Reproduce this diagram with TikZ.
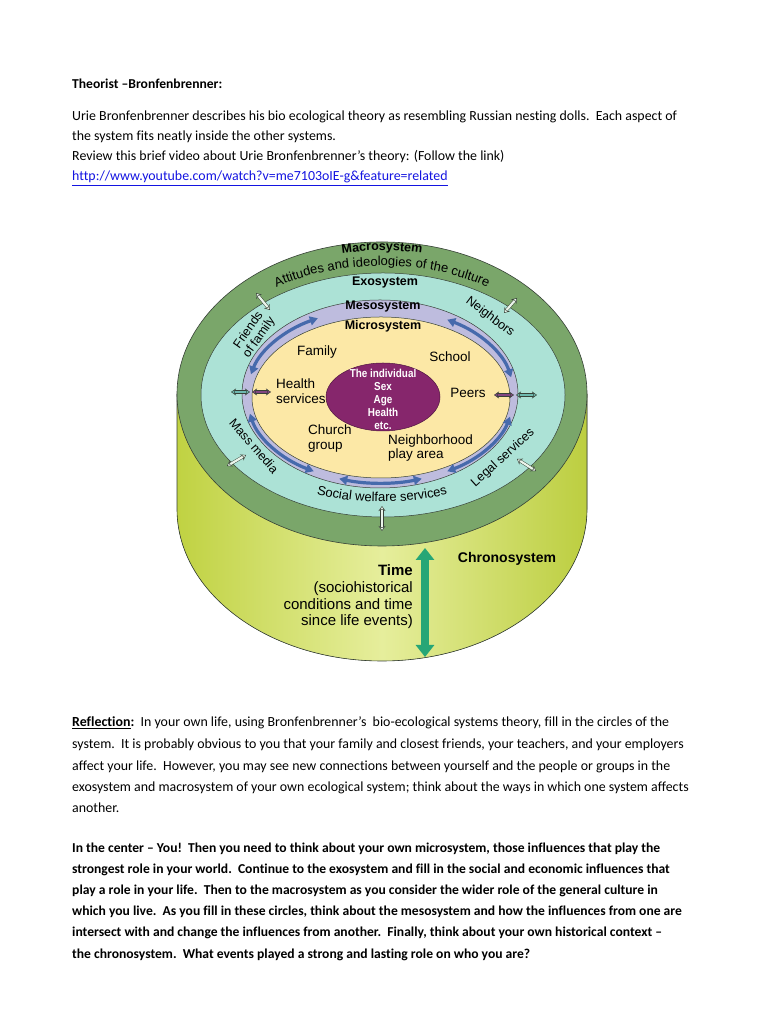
\documentclass[tikz,border=0pt]{standalone}
\usepackage{fontspec}
\setmainfont[Ligatures=NoCommon]{Carlito}
\newfontfamily\diag{Liberation Sans}
\newfontfamily\diagN[FakeStretch=0.86]{Liberation Sans}
\usetikzlibrary{arrows.meta,decorations.text}
\definecolor{macroC}{RGB}{122,166,106}
\definecolor{edgeC}{RGB}{55,65,55}
\definecolor{exoC}{RGB}{172,226,214}
\definecolor{mesoC}{RGB}{190,188,222}
\definecolor{microC}{RGB}{252,232,166}
\definecolor{indivC}{RGB}{134,38,108}
\definecolor{blueA}{RGB}{70,106,172}
\definecolor{cylL}{RGB}{192,210,66}
\definecolor{cylM}{RGB}{230,238,156}
\definecolor{cylR}{RGB}{188,206,64}
\definecolor{timeC}{RGB}{38,166,118}
\definecolor{linkC}{RGB}{20,20,225}
\definecolor{tealA}{RGB}{110,185,175}
\definecolor{purpA}{RGB}{130,70,130}
\definecolor{paleA}{RGB}{235,245,235}
\tikzset{
  body/.style={anchor=base west, inner sep=0pt, font=\fontsize{13.9}{15}\selectfont},
  bodyB/.style={body, font=\fontsize{13.6}{15}\selectfont\bfseries},
  lbl/.style={inner sep=0pt, font=\diag\fontsize{13.5}{14.5}\selectfont},
  blbl/.style={inner sep=0pt, font=\diag\bfseries\fontsize{12.5}{13}\selectfont},
  rlbl/.style={inner sep=0pt, font=\diag\fontsize{12.5}{13}\selectfont},
  bluearr/.style={draw=blueA, line width=3.2pt, {Triangle[width=9pt,length=8pt]}-{Triangle[width=9pt,length=8pt]}},
  hol/.style={draw=edgeC, line width=0.45pt, double=#1, double distance=2.2pt, {Stealth[length=5pt,width=7pt,fill=#1]}-{Stealth[length=5pt,width=7pt,fill=#1]}}
}
\begin{document}
\begin{tikzpicture}[x=1pt,y=1pt]
\useasboundingbox (0,0) rectangle (768,1024);
\fill[white] (0,0) rectangle (768,1024);

% ---- top text ----
\node[bodyB] (title) at (72,1024-89) {Theorist –Bronfenbrenner:};
\node[body] (u1) at (72,1024-121) {Urie Bronfenbrenner describes his bio ecological theory as resembling Russian nesting dolls.\ \ Each aspect of};
\node[body] (u2) at (72,1024-141) {the system fits neatly inside the other systems.};
\node[body] (u3) at (72,1024-161) {Review this brief video about Urie Bronfenbrenner’s theory: (Follow the link)};
\node[body, text=linkC] (u4) at (72,1024-181) {\underline{http://www.youtube.com/watch?v=me7103oIE-g\&feature=related}};

% ---- diagram ----
\begin{scope}[shift={(382,630)}]
  % cylinder side
  \fill[left color=cylL, right color=cylR, middle color=cylM]
    (-205,0) -- (-205,-115) arc[start angle=180,end angle=360,x radius=205,y radius=152] -- (205,0) -- cycle;
  \draw[edgeC, line width=0.6pt]
    (-205,0) -- (-205,-115) arc[start angle=180,end angle=360,x radius=205,y radius=152] -- (205,0);
  % discs
  \filldraw[fill=macroC, draw=edgeC, line width=0.6pt] (0,0) ellipse[x radius=205,y radius=152];
  \filldraw[fill=exoC, draw=edgeC, line width=0.5pt] (1,-1) ellipse[x radius=182,y radius=122];
  \filldraw[fill=mesoC, draw=edgeC, line width=0.5pt] (-2,0) ellipse[x radius=138,y radius=94];
  \filldraw[fill=microC, draw=edgeC, line width=0.5pt] (-1,-3.5) ellipse[x radius=129,y radius=80.5];
  \filldraw[fill=indivC, draw=indivC!60!black, line width=0.5pt] (1,-3) ellipse[x radius=57,y radius=34];

  % blue arrows in mesosystem ring
  \begin{scope}[shift={(-1.5,-1.5)}]
    \draw[bluearr] (118:133.5 and 87.5) arc[start angle=118,end angle=166,x radius=133.5,y radius=87.5];
    \draw[bluearr] (60:133.5 and 87.5) arc[start angle=60,end angle=12,x radius=133.5,y radius=87.5];
    \draw[bluearr] (192:133.5 and 87.5) arc[start angle=192,end angle=240,x radius=133.5,y radius=87.5];
    \draw[bluearr] (252:133.5 and 87.5) arc[start angle=252,end angle=288,x radius=133.5,y radius=87.5];
    \draw[bluearr] (300:133.5 and 87.5) arc[start angle=300,end angle=346,x radius=133.5,y radius=87.5];
  \end{scope}

  % small hollow arrows
  \coordinate (la1) at (-151,2); \coordinate (la2) at (-132,2);
  \coordinate (lb1) at (-130,2); \coordinate (lb2) at (-111,2);
  \coordinate (ra1) at (112,-1); \coordinate (ra2) at (132,-1);
  \coordinate (rb1) at (134,-1); \coordinate (rb2) at (155,-1);
  \coordinate (tl1) at (-126,101); \coordinate (tl2) at (-112,84);
  \coordinate (tr1) at (122,81); \coordinate (tr2) at (135,96);
  \coordinate (bl1) at (-155,-72); \coordinate (bl2) at (-136,-61);
  \coordinate (br1) at (135,-65); \coordinate (br2) at (154,-77);
  \coordinate (bm1) at (0,-112); \coordinate (bm2) at (0,-137);
  \draw[hol=tealA] (la1) -- (la2);
  \draw[hol=purpA] (lb1) -- (lb2);
  \draw[hol=purpA] (ra1) -- (ra2);
  \draw[hol=tealA] (rb1) -- (rb2);
  \draw[hol=paleA] (tl1) -- (tl2);
  \draw[hol=paleA] (tr1) -- (tr2);
  \draw[hol=paleA] (bl1) -- (bl2);
  \draw[hol=paleA] (br1) -- (br2);
  \draw[hol=paleA] (bm1) -- (bm2);

  % arc texts
  \path[decorate, decoration={text along path, text align=center,
      text={|\diag\bfseries\fontsize{12.5}{13}\selectfont|Macrosystem}}]
    (150:200 and 143.5) arc[start angle=150,end angle=30,x radius=200,y radius=143.5];
  \path[decorate, decoration={text along path, text align=center,
      text={|\diag\fontsize{13}{13}\selectfont|Attitudes and ideologies of the culture}}]
    (160:192 and 128) arc[start angle=160,end angle=20,x radius=192,y radius=128];
  \path[decorate, decoration={text along path, text align=center,
      text={|\diag\fontsize{13}{13}\selectfont|Social welfare services}}]
    (235:175 and 108) arc[start angle=235,end angle=305,x radius=175,y radius=108];

  % labels
  \node[blbl] (exo) at (3,111) {Exosystem};
  \node[blbl] (meso) at (1,87) {Mesosystem};
  \node[blbl] (micro) at (1,68) {Microsystem};
  \node[rlbl, rotate=55, align=center] (friends) at (-128,60) {Friends\\of family};
  \node[rlbl, rotate=-37] (neigh) at (108,77) {Neighbors};
  \node[rlbl, rotate=-49] (mass) at (-128,-52) {Mass media};
  \node[rlbl, rotate=42] (legal) at (121,-64) {Legal services};
  \node[lbl] (family) at (-65,42) {Family};
  \node[lbl] (school) at (68,37) {School};
  \node[lbl, anchor=west, align=left] (health) at (-106,3) {Health\\services};
  \node[lbl] (peers) at (86,1) {Peers};
  \node[lbl, anchor=west, align=left] (church) at (-74,-44.5) {Church\\group};
  \node[lbl, anchor=west, align=left] (nbh) at (6,-54) {Neighborhood\\play area};
  \node[inner sep=0pt, align=center, text=white, font=\diagN\bfseries\fontsize{11.5}{13}\selectfont] (indiv) at (1,-5)
    {The individual\\Sex\\Age\\Health\\etc.};
  \node[inner sep=0pt, font=\diag\bfseries\fontsize{14}{15}\selectfont] (chrono) at (125,-165) {Chronosystem};
  \node[inner sep=0pt, anchor=east, align=right, font=\diag\fontsize{15}{16.7}\selectfont] (time) at (31,-203)
    {\textbf{Time}\\(sociohistorical\\conditions and time\\since life events)};
  \coordinate (ta) at (43,-154);
  \coordinate (tb) at (43,-263);
  \draw[timeC, line width=8pt, {Triangle[width=18pt,length=12pt]}-{Triangle[width=18pt,length=12pt]}] (ta) -- (tb);
\end{scope}

% ---- bottom text ----
\node[body] (r1) at (72,1024-727) {\underline{\textbf{Reflection}}\textbf{:}\ \ In your own life, using Bronfenbrenner’s\ \ bio-ecological systems theory, fill in the circles of the};
\node[body] (r2) at (72,1024-749) {system.\ \ It is probably obvious to you that your family and closest friends, your teachers, and your employers};
\node[body] (r3) at (72,1024-771) {affect your life.\ \ However, you may see new connections between yourself and the people or groups in the};
\node[body] (r4) at (72,1024-792) {exosystem and macrosystem of your own ecological system; think about the ways in which one system affects};
\node[body] (r5) at (72,1024-813) {another.};

\node[bodyB] (c1) at (72,1024-853) {In the center – You!\ \ Then you need to think about your own microsystem, those influences that play the};
\node[bodyB] (c2) at (72,1024-874) {strongest role in your world.\ \ Continue to the exosystem and fill in the social and economic influences that};
\node[bodyB] (c3) at (72,1024-895) {play a role in your life.\ \ Then to the macrosystem as you consider the wider role of the general culture in};
\node[bodyB] (c4) at (72,1024-916) {which you live.\ \ As you fill in these circles, think about the mesosystem and how the influences from one are};
\node[bodyB] (c5) at (72,1024-937) {intersect with and change the influences from another.\ \ Finally, think about your own historical context –};
\node[bodyB] (c6) at (72,1024-959) {the chronosystem.\ \ What events played a strong and lasting role on who you are?};
\end{tikzpicture}
\end{document}
